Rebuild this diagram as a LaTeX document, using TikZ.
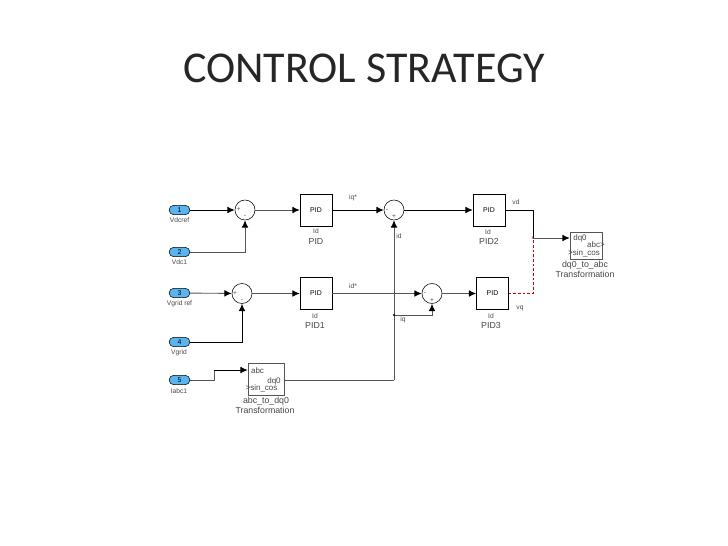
\documentclass[tikz,border=0pt]{standalone}
\usepackage{fontspec}
\setmainfont{Liberation Sans}
\newfontfamily\titlefont{Carlito}
\usetikzlibrary{arrows.meta}
\definecolor{portblue}{RGB}{90,180,240}
\definecolor{wiregray}{RGB}{85,85,85}
\definecolor{labelgray}{RGB}{70,70,70}

\tikzset{
  inport/.style={draw=black, fill=portblue, rounded corners=3.4pt, minimum width=15.5pt, minimum height=7pt, inner sep=0pt, font=\fontsize{5.2}{6}\selectfont},
  sumblock/.style={draw=black, circle, minimum size=15pt, inner sep=0pt},
  pidblock/.style={draw=black, minimum width=24pt, minimum height=24pt, inner sep=0pt, font=\fontsize{5.2}{6}\selectfont},
  transblock/.style={draw=wiregray, minimum width=27pt, minimum height=24pt, inner sep=0pt},
  tag/.style={text=labelgray, inner sep=0pt, font=\fontsize{5}{6}\selectfont},
  porttag/.style={tag, font=\fontsize{6}{7}\selectfont},
  bigtag/.style={text=labelgray, inner sep=0pt, font=\fontsize{6.6}{8}\selectfont},
  wire/.style={draw=wiregray, line width=0.65pt},
  redwire/.style={draw=red!80!black, line width=0.75pt, dash pattern=on 2pt off 1.5pt},
  signal/.style={wire, -{Latex[length=5.5pt,width=5pt,black]}}
}

\begin{document}
\begin{tikzpicture}[x=0.75pt, y=-0.75pt]
  \useasboundingbox (0,0) rectangle (728,546);
  \node[font=\titlefont\fontsize{33}{36}\selectfont, text=black!85] (title) at (364,68) {CONTROL STRATEGY};
  % Inports
  \node[inport] (in1) at (179.5,210) {1};
  \node[inport] (in2) at (179.5,252) {2};
  \node[inport] (in3) at (179.5,293) {3};
  \node[inport] (in4) at (179.5,342) {4};
  \node[inport] (in5) at (179.5,380) {5};
  \node[tag] (in1tag) at (179.5,220) {Vdcref};
  \node[tag] (in2tag) at (179.5,262) {Vdc1};
  \node[tag] (in3tag) at (179.5,304) {Vgrid ref};
  \node[tag] (in4tag) at (179,353) {Vgrid};
  \node[tag] (in5tag) at (179,391) {Iabc1};
  % Sums
  \node[sumblock] (sum1) at (245,210) {};
  \node[sumblock] (sum2) at (242,293.5) {};
  \node[sumblock] (sum3) at (394,210) {};
  \node[sumblock] (sum4) at (432,293.5) {};
  \node[tag] (sum1p) at (238.5,210) {+};
  \node[tag] (sum1m) at (245,216.5) {-};
  \node[tag] (sum2p) at (235,293.5) {+};
  \node[tag] (sum2m) at (242,300) {-};
  \node[tag] (sum3m) at (387,210) {-};
  \node[tag] (sum3p) at (394,217) {+};
  \node[tag] (sum4m) at (425,293.5) {-};
  \node[tag] (sum4p) at (432,300.5) {+};
  % PID blocks
  \node[pidblock] (pid) at (316,210) {PID};
  \node[pidblock] (pid1) at (316,293.5) {PID};
  \node[pidblock] (pid2) at (489,210) {PID};
  \node[pidblock] (pid3) at (492.5,293.5) {PID};
  \node[tag] (pidid) at (316,231.5) {Id};
  \node[bigtag] (pidtag) at (316,241) {PID};
  \node[tag] (pid1id) at (315,316) {Id};
  \node[bigtag] (pid1tag) at (315,325) {PID1};
  \node[tag] (pid2id) at (488,232) {Id};
  \node[bigtag] (pid2tag) at (489,241) {PID2};
  \node[tag] (pid3id) at (491,316) {Id};
  \node[bigtag] (pid3tag) at (491,325) {PID3};
  % Transformations
  \node[transblock] (abcdq) at (266,379) {};
  \node[porttag] (abcport) at (257.5,370.5) {abc};
  \node[porttag] (dqport) at (274,381) {dq0};
  \node[porttag] (sincos) at (261.5,388) {>sin\_cos};
  \node[bigtag] (abcdqname) at (266,401) {abc\_to\_dq0};
  \node[bigtag] (abcdqtag) at (265,410) {Transformation};
  \node[transblock, minimum width=24pt, minimum height=20.5pt] (dqabc) at (586,245.5) {};
  \node[porttag] (dqinport) at (580,238) {dq0};
  \node[porttag] (abcout) at (596,245) {abc>};
  \node[porttag] (sincos2) at (584,253) {>sin\_cos};
  \node[bigtag] (dqabcname) at (585,265) {dq0\_to\_abc};
  \node[bigtag] (dqabctag) at (585,274) {Transformation};
  % Signal names
  \node[tag] (iqstar) at (353,198) {iq*};
  \node[tag] (idstar) at (353,286) {id*};
  \node[tag] (idtag) at (399,236) {id};
  \node[tag] (iqtag) at (403,320) {iq};
  \node[tag] (vdtag) at (516,202) {vd};
  \node[tag] (vqtag) at (520,308) {vq};
  % Free corners
  \coordinate (join) at (533,238);
  \coordinate (tapid) at (394,380);
  \coordinate (tapiq) at (394,315);
  \coordinate (bend5) at (214,370);
  % Wires
  \draw[signal, draw=black] (in1) -- (sum1);
  \draw[signal] (in2) -| (sum1);
  \draw[signal] (in3) -- (sum2);
  \draw[signal, draw=black] (in4) -| (sum2);
  \draw[signal] (sum1) -- (pid);
  \draw[signal] (sum2) -- (pid1);
  \draw[signal, draw=black] (pid) -- (sum3);
  \draw[signal] (pid1) -- (sum4);
  \draw[signal, draw=black] (sum3) -- (pid2);
  \draw[signal] (sum4) -- (pid3);
  \draw[wire] (in5) -| (bend5);
  \draw[signal, draw=black] (bend5) -- (abcdq.west |- bend5);
  \draw[wire] (abcdq.east |- tapid) -- (tapid);
  \draw[signal] (tapid) -- (sum3);
  \draw[signal] (tapiq) -| (sum4);
  \fill[black] (tapiq) circle (0.8pt);
  \draw[redwire] (pid3) -| (join);
  \draw[wire, draw=black] (pid2) -| (join);
  \draw[signal] (join) -- (dqabc.west |- join);
  \node[text=red!80!black, inner sep=0pt, font=\fontsize{4}{4}\selectfont] (joinmark) at (join) {x};
\end{tikzpicture}
\end{document}
